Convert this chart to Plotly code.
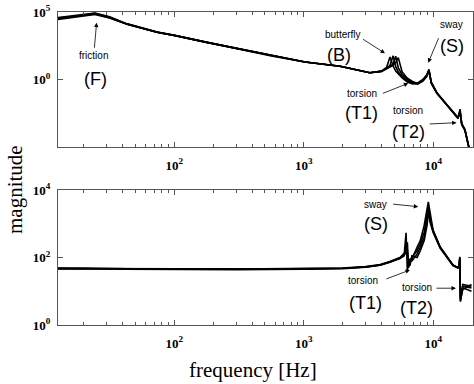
import numpy as np
import plotly.graph_objects as go

# ---------------- data ----------------
# top panel: frequency grid [Hz] and log10 magnitude of 4 overlapping responses
freq_top = [12.6, 17.8, 24.4, 31.6, 43.2, 73.6, 100, 178, 323, 562, 1023, 1905,
            3236, 3981, 4365, 4634, 4898, 5129, 5370, 5754, 6310, 6918, 7586,
            8318, 8913, 9268, 9661, 10666, 12764, 15524, 16106, 16596, 17579, 19231]
top_log_a = [4.45, 4.62, 4.82, 4.55, 4.09, 3.50, 3.27, 2.75, 2.26, 1.75, 1.30, 0.98,
             0.50, 0.62, 0.90, 1.67, 1.00, 0.62, 0.40, 0.12, -0.18, -0.33, -0.28,
             -0.05, 0.30, 0.70, -0.26, -1.00, -1.89, -2.85, -2.30, -3.30, -3.74, -5.4]
top_log_b = [4.55, 4.70, 4.90, 4.62, 4.12, 3.51, 3.27, 2.75, 2.26, 1.75, 1.30, 0.98,
             0.50, 0.62, 0.85, 1.05, 1.75, 0.95, 0.55, 0.22, -0.10, -0.28, -0.35,
             -0.12, 0.22, 0.62, -0.20, -0.98, -1.87, -2.82, -2.45, -3.25, -3.70, -5.4]
top_log_c = [4.58, 4.75, 4.93, 4.65, 4.12, 3.51, 3.27, 2.75, 2.26, 1.75, 1.30, 0.98,
             0.50, 0.60, 0.80, 0.95, 1.15, 1.72, 0.85, 0.35, 0.00, -0.22, -0.25,
             0.00, 0.35, 0.75, -0.30, -1.02, -1.90, -2.88, -2.20, -3.35, -3.78, -5.4]
top_log_d = [4.50, 4.66, 4.86, 4.58, 4.10, 3.50, 3.27, 2.75, 2.26, 1.75, 1.30, 0.98,
             0.50, 0.60, 0.78, 0.90, 1.05, 1.25, 1.62, 0.55, 0.10, -0.15, -0.30,
             -0.08, 0.28, 0.66, -0.24, -1.00, -1.88, -2.85, -2.40, -3.30, -3.74, -5.4]

# bottom panel
freq_bot = [12.6, 20, 40, 100, 300, 1000, 2000, 3000, 3890, 4634, 5534, 5970, 6166,
            6310, 6457, 6607, 6839, 7499, 7943, 8511, 8954, 9162, 9441, 9966, 11298,
            12735, 14191, 15488, 15849, 16032, 16218, 16904, 19724]
bot_log_a = [1.68, 1.68, 1.67, 1.66, 1.65, 1.66, 1.68, 1.72, 1.78, 1.87, 1.99, 2.10, 2.73,
             1.60, 1.85, 1.95, 1.95, 2.30, 2.50, 2.95, 3.45, 3.65, 3.35, 2.81, 2.32,
             2.02, 1.78, 1.70, 1.75, 2.02, 0.69, 1.15, 1.10]
bot_log_b = [1.66, 1.67, 1.65, 1.64, 1.64, 1.65, 1.67, 1.71, 1.77, 1.86, 1.97, 2.05, 2.35,
             2.20, 1.80, 1.90, 1.90, 2.10, 2.30, 2.60, 3.10, 3.40, 3.05, 2.75, 2.28,
             2.00, 1.76, 1.69, 1.74, 1.95, 0.80, 1.20, 1.15]
bot_log_c = [1.69, 1.68, 1.66, 1.65, 1.66, 1.67, 1.69, 1.73, 1.79, 1.88, 2.00, 2.12, 2.20,
             2.45, 1.70, 1.85, 2.00, 2.20, 2.40, 2.75, 3.25, 3.50, 3.20, 2.78, 2.30,
             2.01, 1.77, 1.70, 1.76, 1.98, 0.75, 1.05, 1.20]
bot_log_d = [1.67, 1.67, 1.66, 1.65, 1.65, 1.66, 1.68, 1.72, 1.78, 1.87, 1.98, 2.08, 2.15,
             2.05, 1.95, 1.75, 2.05, 2.00, 2.20, 2.50, 2.95, 3.30, 3.10, 2.80, 2.30,
             2.02, 1.78, 1.70, 1.74, 2.00, 0.72, 1.10, 1.00]

x_tick_vals = [100, 1000, 10000]
x_tick_text = ["10<sup>2</sup>", "10<sup>3</sup>", "10<sup>4</sup>"]
top_y_tick_vals = [1, 1e5]
top_y_tick_text = ["10<sup>0</sup>", "10<sup>5</sup>"]
bot_y_tick_vals = [1, 100, 1e4]
bot_y_tick_text = ["10<sup>0</sup>", "10<sup>2</sup>", "10<sup>4</sup>"]

# ---------------- figure ----------------
fig = go.Figure()
for series in (top_log_a, top_log_b, top_log_c, top_log_d):
    fig.add_trace(go.Scatter(x=freq_top, y=10 ** np.array(series), mode="lines",
                             line=dict(color="black", width=1.6),
                             xaxis="x", yaxis="y", showlegend=False))
for series in (bot_log_a, bot_log_b, bot_log_c, bot_log_d):
    fig.add_trace(go.Scatter(x=freq_bot, y=10 ** np.array(series), mode="lines",
                             line=dict(color="black", width=1.6),
                             xaxis="x2", yaxis="y2", showlegend=False))

minor_vals = [m * 10 ** e for e in range(1, 5) for m in range(2, 10)]
tickfont = dict(family="Liberation Serif", size=13, color="black", weight="bold")
axis_common = dict(type="log", showline=True, mirror="ticks", linecolor="#555",
                   linewidth=1, ticks="inside", ticklen=5, tickcolor="#555",
                   showgrid=False, zeroline=False, tickfont=tickfont)

x_common = dict(axis_common, range=[1.102, 4.307], tickmode="array",
                tickvals=x_tick_vals, ticktext=x_tick_text, ticklabelstandoff=6,
                minor=dict(ticks="inside", ticklen=3, tickcolor="#555",
                           tickvals=minor_vals))

fig.update_layout(
    width=474, height=384,
    margin=dict(l=58, r=1, t=12, b=59),
    plot_bgcolor="white", paper_bgcolor="white",
    xaxis=dict(x_common, anchor="y"),
    yaxis=dict(axis_common, domain=[0.5687, 1.0], range=[-5, 5], anchor="x",
               tickmode="array", tickvals=top_y_tick_vals, ticktext=top_y_tick_text,
               ticklabelstandoff=4),
    xaxis2=dict(x_common, anchor="y2"),
    yaxis2=dict(axis_common, domain=[0.0, 0.4313], range=[0, 4], anchor="x2",
                tickmode="array", tickvals=bot_y_tick_vals, ticktext=bot_y_tick_text,
                ticklabelstandoff=4),
)

small = dict(family="Liberation Sans", size=10, color="black")
big = dict(family="Liberation Sans", size=18, color="black")

# (text, log10 f, log10 m, font, axis suffix)
labels = [
    ("friction", 1.375, 1.81, small, ""), ("(F)", 1.388, 0.01, big, ""),
    ("butterfly", 3.30, 3.30, small, ""), ("(B)", 3.274, 1.81, big, ""),
    ("sway", 4.142, 4.11, small, ""), ("(S)", 4.142, 2.48, big, ""),
    ("torsion", 3.447, -1.02, small, ""), ("(T1)", 3.447, -2.50, big, ""),
    ("torsion", 3.807, -2.26, small, ""), ("(T2)", 3.807, -3.87, big, ""),
    ("sway", 3.557, 3.585, small, "2"), ("(S)", 3.557, 2.98, big, "2"),
    ("torsion", 3.459, 1.33, small, "2"), ("(T1)", 3.473, 0.64, big, "2"),
    ("torsion", 3.872, 1.12, small, "2"), ("(T2)", 3.872, 0.495, big, "2"),
]
for text, lx, ly, font, ax in labels:
    fig.add_annotation(text=text, x=lx, y=ly, xref="x" + ax, yref="y" + ax,
                       showarrow=False, font=font, xanchor="center", yanchor="middle")

# arrows: (head f, head m, tail f, tail m, axis suffix) in log10 units
arrows = [
    (1.40, 4.21, 1.382, 2.24, ""),
    (3.627, 1.94, 3.447, 3.05, ""),
    (3.961, 1.24, 4.046, 3.17, ""),
    (3.807, -0.28, 3.60, -1.07, ""),
    (4.18, -3.2, 3.961, -3.30, ""),
    (3.884, 3.505, 3.679, 3.585, "2"),
    (3.82, 1.63, 3.627, 1.35, "2"),
    (4.175, 1.09, 4.013, 1.09, "2"),
]
for hx, hy, tx, ty, ax in arrows:
    fig.add_annotation(text="", x=hx, y=hy, ax=tx, ay=ty,
                       xref="x" + ax, yref="y" + ax, axref="x" + ax, ayref="y" + ax,
                       showarrow=True, arrowhead=2, arrowsize=1.1, arrowwidth=0.8,
                       arrowcolor="black", standoff=0)

# axis titles placed in pixel space via paper fractions
pw, ph = 474 - 58 - 1, 384 - 12 - 59
title_font = dict(family="Liberation Serif", size=21, color="black")
fig.add_annotation(text="frequency [Hz]", xref="paper", yref="paper", showarrow=False,
                   font=title_font, xanchor="center", yanchor="middle",
                   x=(253 - 58) / pw, y=(384 - 59 - 370) / ph)
fig.add_annotation(text="magnitude", xref="paper", yref="paper", showarrow=False,
                   textangle=-90, font=title_font, xanchor="center", yanchor="middle",
                   x=(15 - 58) / pw, y=(384 - 59 - 190) / ph)

fig.write_html("out.html", config={"displayModeBar": False})

# remove the default page margin so the 474x384 figure fills the window exactly
with open("out.html", encoding="utf-8") as fh:
    html = fh.read()
html = html.replace("<head>", "<head><style>html,body{margin:0;padding:0;overflow:hidden;}</style>", 1)
with open("out.html", "w", encoding="utf-8") as fh:
    fh.write(html)
